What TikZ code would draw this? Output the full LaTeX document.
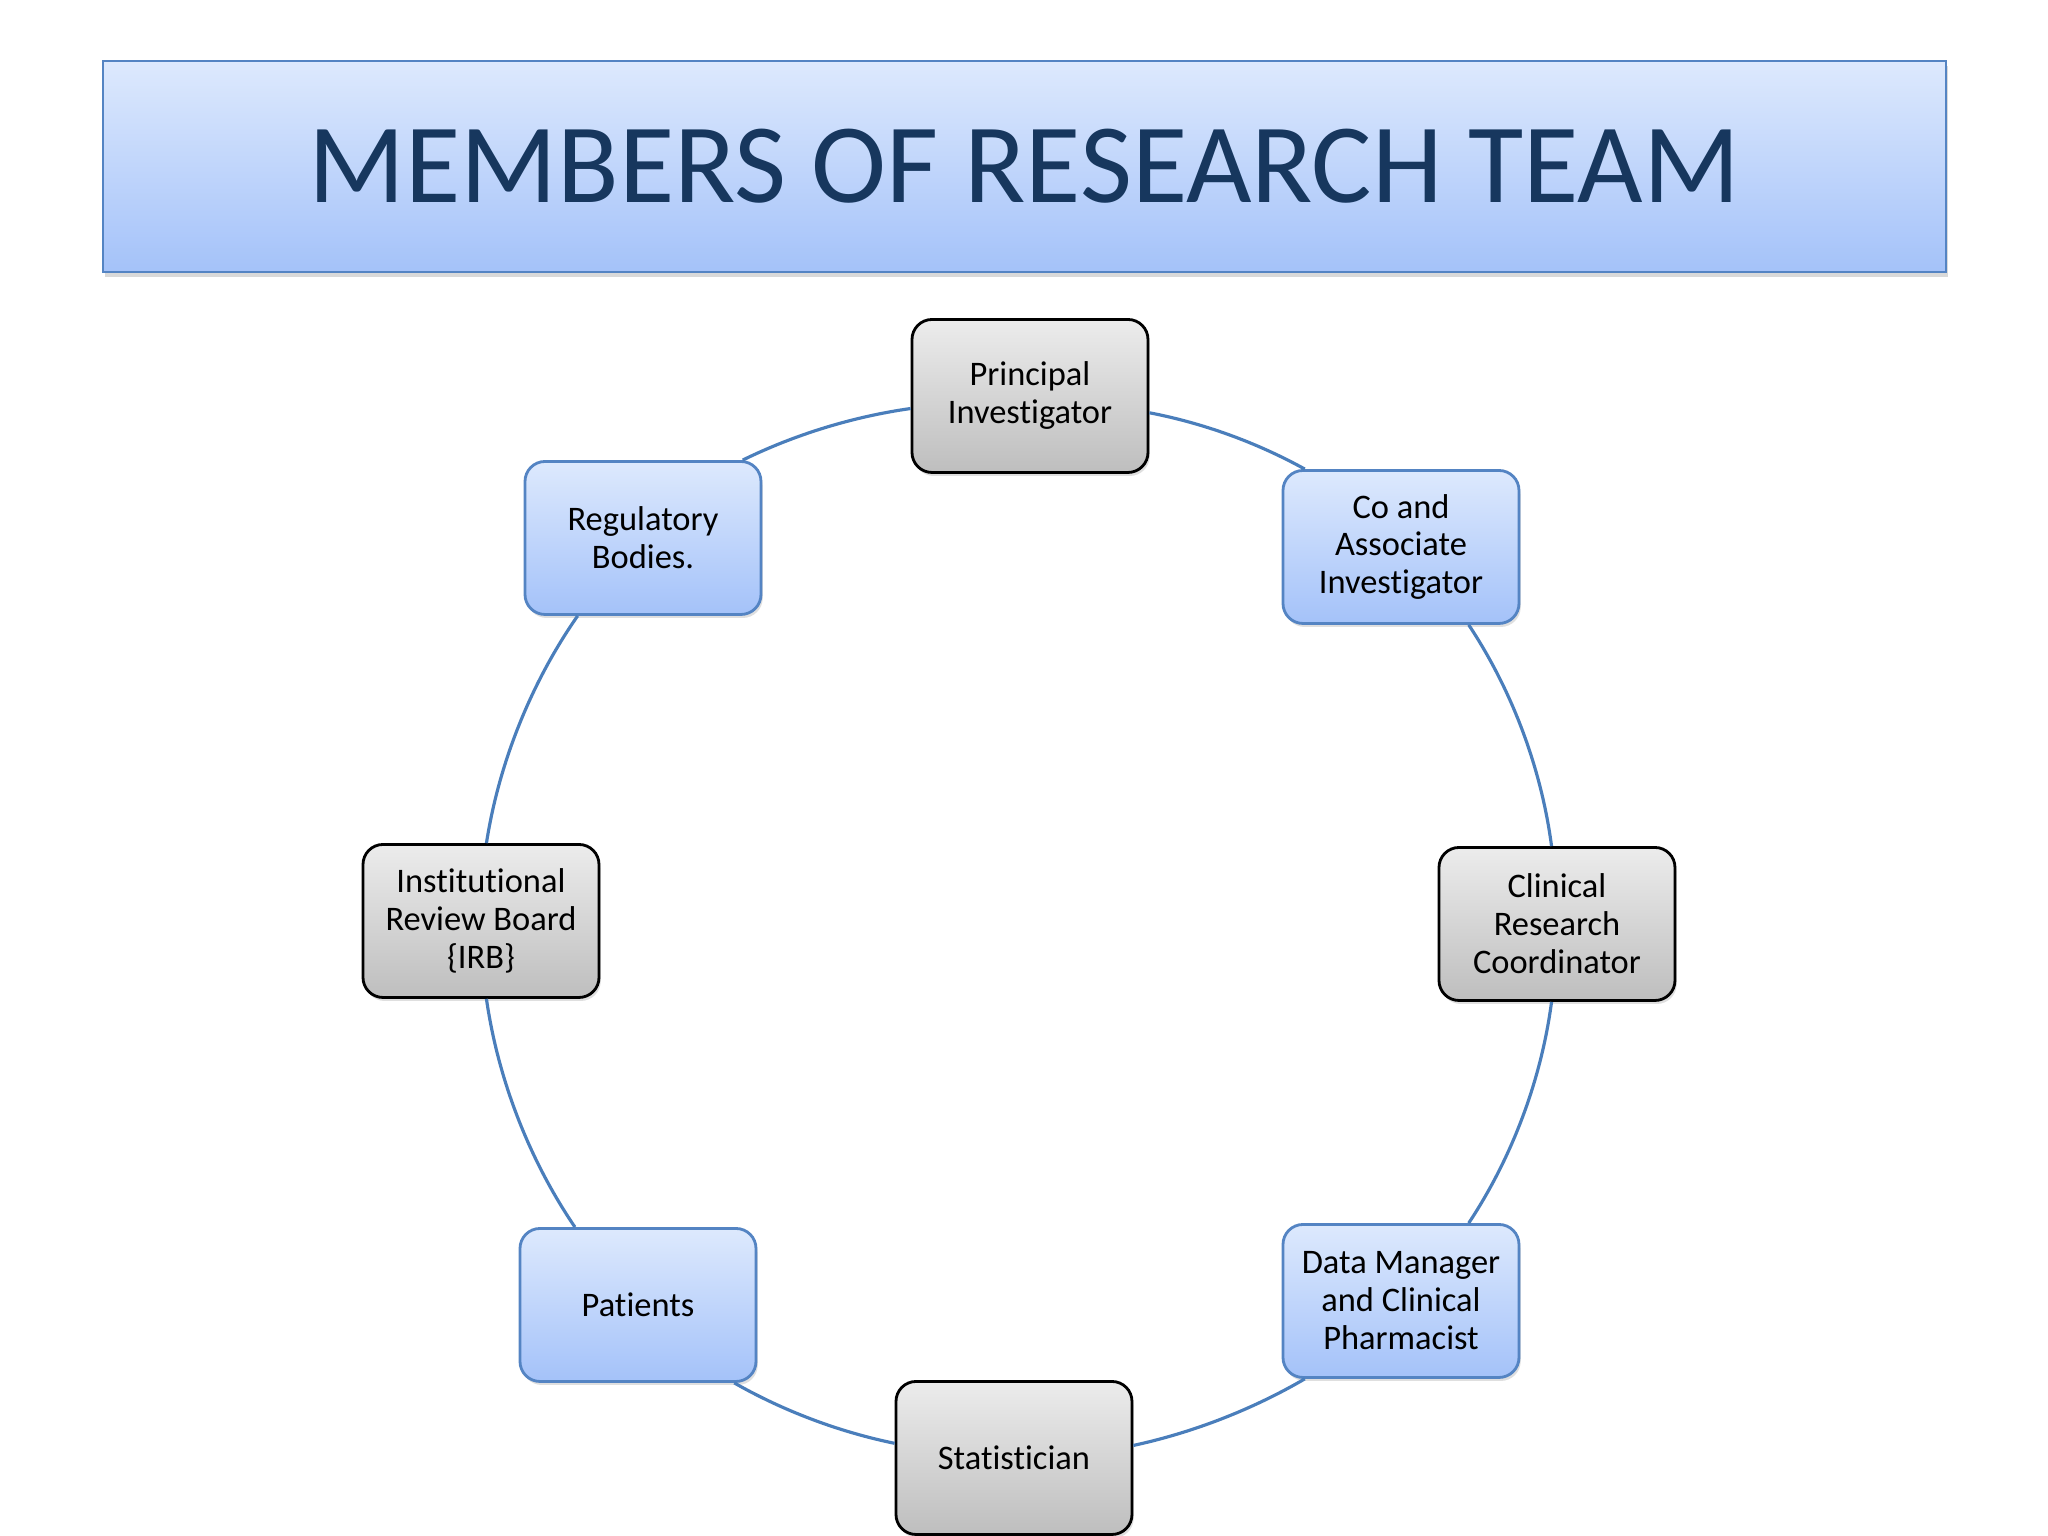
\documentclass[tikz,border=0pt]{standalone}
\usepackage{fontspec}
\setmainfont{Carlito}[Ligatures=NoCommon]
\usepackage{tikz}
\usetikzlibrary{shadows}

\definecolor{ringblue}{RGB}{74,126,187}
\definecolor{edgeblue}{RGB}{84,132,195}
\definecolor{bluetop}{RGB}{221,233,253}
\definecolor{bluebot}{RGB}{164,194,249}
\definecolor{greytop}{RGB}{236,236,236}
\definecolor{greybot}{RGB}{190,190,190}
\definecolor{titleblue}{RGB}{23,55,94}

\begin{document}
\begin{tikzpicture}[
    member/.style={rounded corners=0.2cm, minimum width=2.36cm, minimum height=1.53cm,
      align=center, font=\fontsize{9.8}{10.8}\selectfont, line width=0.8pt,
      drop shadow={shadow xshift=0.5pt, shadow yshift=-1pt, opacity=0.25}},
    bluebox/.style={member, draw=edgeblue, top color=bluetop, bottom color=bluebot},
    greybox/.style={member, draw=black, top color=greytop, bottom color=greybot},
    ring/.style={draw=ringblue, line width=0.9pt, looseness=0.85}
  ]
  \useasboundingbox (0,0) rectangle (20.48,15.36);
  % title
  \node[draw=edgeblue, line width=0.8pt, top color=bluetop, bottom color=bluebot,
    minimum width=18.43cm, minimum height=2.11cm, text=titleblue,
    font=\fontsize{32.2}{38}\selectfont,
    drop shadow={shadow xshift=0.5pt, shadow yshift=-1.5pt, opacity=0.3}]
    (title) at (10.245,13.695) {\raisebox{-1.5pt}{MEMBERS OF RESEARCH TEAM}};
  % team members
  \node[greybox] (pi) at (10.30,11.40) {Principal\\Investigator};
  \node[bluebox] (co) at (14.01,9.89) {Co and\\Associate\\Investigator};
  \node[greybox] (crc) at (15.57,6.12) {Clinical\\Research\\Coordinator};
  \node[bluebox] (dm) at (14.01,2.35) {Data Manager\\and Clinical\\Pharmacist};
  \node[greybox] (stat) at (10.14,0.78) {Statistician};
  \node[bluebox] (pat) at (6.38,2.31) {Patients};
  \node[greybox] (irb) at (4.81,6.15) {Institutional\\Review Board\\\{IRB\}};
  \node[bluebox] (reg) at (6.43,9.98) {Regulatory\\Bodies.};
  % ring
  \draw[ring] (pi.-8) to[bend left=9] (co.141);
  \draw[ring] (co.-49) to[bend left=13] (crc.94);
  \draw[ring] (crc.-94) to[bend left=13] (dm.49);
  \draw[ring] (dm.-141) to[bend left=9] (stat.6);
  \draw[ring] (stat.173) to[bend left=9] (pat.-39);
  \draw[ring] (pat.129) to[bend left=13] (irb.-86);
  \draw[ring] (irb.86) to[bend left=13] (reg.-130);
  \draw[ring] (reg.38) to[bend left=9] (pi.-174);
\end{tikzpicture}
\end{document}
